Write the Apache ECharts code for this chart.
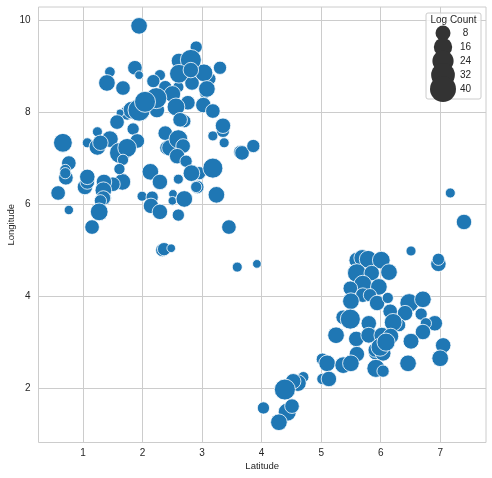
<!DOCTYPE html>
<html>
<head>
<meta charset="utf-8">
<style>html,body{margin:0;padding:0;background:#fff}#grafico{width:492px;height:478px}</style>
<script src="https://cdn.jsdelivr.net/npm/echarts@6/dist/echarts.min.js"></script>
</head>
<body>
<div id="grafico"></div>
<script>
// values, same order in all three lists (later = drawn on top)
const latitude = [
  1.94,2.90,2.61,3.30,1.87,1.45,1.94,2.29,3.13,2.83,2.18,1.40,
  1.67,2.38,2.60,3.05,3.03,3.08,2.81,2.61,2.81,2.50,2.76,2.56,
  3.02,3.18,2.24,1.74,1.82,1.94,2.23,2.04,1.62,2.70,2.63,1.57,
  1.84,3.35,3.35,3.18,3.37,2.38,1.91,1.45,1.24,1.07,0.66,1.24,
  1.29,1.62,1.74,1.67,2.41,2.46,2.60,2.68,2.58,2.73,3.64,3.67,
  3.86,0.76,0.71,0.70,0.70,0.58,0.76,1.03,1.07,1.07,1.66,1.50,
  1.61,1.35,1.34,1.37,1.34,1.29,1.27,1.15,2.13,2.29,2.60,2.95,
  2.82,3.18,2.92,2.90,3.24,1.99,2.16,2.14,2.29,2.51,2.50,2.70,
  2.60,3.45,2.33,2.36,2.48,3.59,3.92,
  7.17,7.40,6.51,6.97,6.97,5.60,5.69,5.79,6.01,6.14,5.57,5.60,
  5.85,5.70,5.49,5.97,5.70,5.82,5.50,5.94,6.12,6.48,6.71,6.41,
  6.16,6.68,5.37,5.49,6.31,6.21,6.91,6.76,5.80,6.71,5.25,5.59,
  5.80,6.02,6.17,6.51,7.05,5.91,5.91,6.04,5.99,6.09,5.60,7.00,
  5.02,5.10,5.37,5.50,5.92,6.46,6.04,4.70,4.61,4.53,4.39,5.02,
  5.13,4.03,4.43,4.51,4.29
];
const longitude = [
  9.87,9.41,9.11,8.96,8.96,8.87,8.80,8.80,8.72,8.63,8.67,8.63,
  8.52,8.54,8.54,8.41,8.85,8.50,9.13,8.83,8.91,8.39,8.20,8.11,
  8.15,8.02,8.04,7.98,8.04,8.04,8.30,8.22,7.98,7.80,7.83,7.78,
  7.63,7.59,7.70,7.48,7.33,7.54,7.37,7.41,7.57,7.33,7.33,7.24,
  7.33,7.11,7.22,6.96,7.22,7.22,7.41,7.26,7.04,6.93,7.13,7.11,
  7.26,6.89,6.57,6.74,6.67,6.24,5.87,6.37,6.48,6.59,6.48,6.43,
  6.76,6.48,6.30,6.13,6.13,6.07,5.83,5.50,6.70,6.48,6.54,6.67,
  6.67,6.78,6.37,6.37,6.20,6.17,6.15,5.96,5.83,6.22,6.07,6.11,
  5.76,5.50,5.00,5.02,5.04,4.63,4.70,
  6.24,5.61,4.98,4.70,4.80,4.78,4.83,4.80,4.78,4.52,4.52,4.50,
  4.50,4.26,4.17,4.20,4.02,4.02,3.89,3.85,3.96,3.85,3.93,3.63,
  3.67,3.61,3.54,3.50,3.37,3.43,3.41,3.41,3.41,3.22,3.15,3.07,
  3.15,3.15,3.13,3.02,2.93,2.76,2.83,2.76,2.89,3.00,2.74,2.65,
  2.63,2.54,2.50,2.54,2.43,2.54,2.37,2.24,2.11,2.15,1.97,2.20,
  2.20,1.57,1.48,1.61,1.26
];
const logCount = [
  22,12,19,14,17,9,6,10,12,17,14,22,
  17,14,10,10,25,22,35,28,19,22,17,25,
  19,17,19,17,25,39,35,35,5,14,17,17,
  12,14,19,8,8,17,17,22,8,8,28,22,
  19,35,28,10,17,22,28,17,19,12,14,17,
  14,17,17,10,10,17,7,19,17,19,22,17,
  10,19,22,12,17,12,25,17,22,19,8,14,
  22,32,14,10,22,8,12,19,19,6,6,22,
  12,17,14,14,6,8,6,
  8,19,8,19,12,20,22,25,25,22,19,28,
  19,25,17,22,17,14,22,19,10,28,22,19,
  17,12,17,32,14,25,19,10,19,19,22,19,
  20,20,20,20,19,14,17,20,26,26,19,22,
  12,22,22,22,26,22,12,10,22,19,35,10,
  19,12,26,17,22
];
const xTicks = [1, 2, 3, 4, 5, 6, 7];
const yTicks = [2, 4, 6, 8, 10];
const legendCounts = [8, 16, 24, 32, 40];

const textColor = '#262626';
const gridColor = '#cccccc';
const fontFamily = '"Liberation Sans", Arial, sans-serif';

const puntos = latitude.map((lat, i) => [lat, longitude[i], logCount[i]]);

// the plot marks and the legend swatches do not share a scale in the reference
const markSize = (count) => Math.sqrt(count) * 3.55;
const legendSize = (count) => Math.sqrt(112 + 14.1 * count);

// customValues keeps ticks and grid on whole numbers although min/max are not
const axisBase = (ticks, margin) => ({
  type: 'value',
  nameLocation: 'middle',
  nameMoveOverlap: false,
  nameTextStyle: { color: textColor, fontSize: 9.5, fontFamily },
  axisLine: { show: false },
  axisTick: { show: false, customValues: ticks },
  axisLabel: { color: textColor, fontSize: 10, fontFamily, margin, customValues: ticks },
  splitLine: { show: true, lineStyle: { color: gridColor, width: 1 } }
});

// legend box, swatches and labels
const legendX = 443, legendTop = 33, legendStep = 14;
const legendGraphics = [
  { type: 'rect', shape: { x: 426, y: 13, width: 55, height: 86, r: 2 },
    style: { fill: 'rgba(255,255,255,0.8)', stroke: gridColor, lineWidth: 1 }, z: 10 },
  { type: 'text', style: { x: 453.5, y: 20, text: 'Log Count', fill: textColor, font: '10px ' + fontFamily,
    textAlign: 'center', textVerticalAlign: 'middle' }, z: 11 }
];
legendCounts.forEach((c, i) => {
  const y = legendTop + i * legendStep;
  legendGraphics.push({ type: 'circle', shape: { cx: legendX, cy: y, r: legendSize(c) / 2 },
    style: { fill: '#333333' }, z: 11 });
  legendGraphics.push({ type: 'text', style: { x: 465.5, y: y, text: String(c), fill: textColor,
    font: '10px ' + fontFamily, textAlign: 'center', textVerticalAlign: 'middle' }, z: 11 });
});

const myChart = echarts.init(document.getElementById('grafico'), null, { renderer: 'canvas' });

myChart.setOption({
  animation: false,
  backgroundColor: '#ffffff',
  grid: { left: 38.5, top: 7, width: 447.5, height: 435.5, show: true, borderColor: gridColor, borderWidth: 1, outerBoundsMode: 'none' },
  xAxis: Object.assign(axisBase(xTicks, 6), { name: 'Latitude', nameGap: 19, min: 0.25, max: 7.77 }),
  yAxis: Object.assign(axisBase(yTicks, 8), { name: 'Longitude', nameGap: 22, min: 0.82, max: 10.28 }),
  graphic: legendGraphics,
  series: [{
    type: 'scatter',
    data: puntos,
    symbolSize: (d) => markSize(d[2]),
    itemStyle: { color: '#1f77b4', borderColor: '#ffffff', borderWidth: 0.8, opacity: 1 },
    silent: true
  }]
});
</script>
</body>
</html>
